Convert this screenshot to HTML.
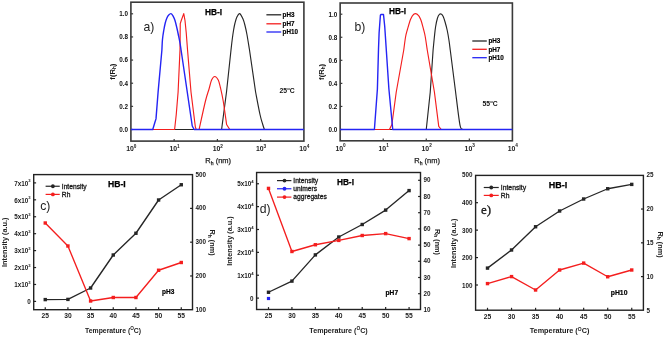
<!DOCTYPE html>
<html><head><meta charset="utf-8"><style>
html,body{margin:0;padding:0;background:#fff;}
body{width:666px;height:337px;overflow:hidden;}
svg{display:block;font-family:"Liberation Sans", sans-serif;will-change:transform;}
</style></head><body>
<svg width="666" height="337" viewBox="0 0 666 337">
<rect width="666" height="337" fill="#fff"/>
<rect x="130.90" y="2.20" width="173.00" height="138.90" fill="none" stroke="#3a3a3a" stroke-width="1.6"/>
<line x1="174.15" y1="141.10" x2="174.15" y2="138.90" stroke="#3a3a3a" stroke-width="1.2"/>
<line x1="217.40" y1="141.10" x2="217.40" y2="138.90" stroke="#3a3a3a" stroke-width="1.2"/>
<line x1="260.65" y1="141.10" x2="260.65" y2="138.90" stroke="#3a3a3a" stroke-width="1.2"/>
<line x1="130.90" y1="129.50" x2="133.10" y2="129.50" stroke="#3a3a3a" stroke-width="1.2"/>
<line x1="130.90" y1="106.36" x2="133.10" y2="106.36" stroke="#3a3a3a" stroke-width="1.2"/>
<line x1="130.90" y1="83.22" x2="133.10" y2="83.22" stroke="#3a3a3a" stroke-width="1.2"/>
<line x1="130.90" y1="60.08" x2="133.10" y2="60.08" stroke="#3a3a3a" stroke-width="1.2"/>
<line x1="130.90" y1="36.94" x2="133.10" y2="36.94" stroke="#3a3a3a" stroke-width="1.2"/>
<line x1="130.90" y1="13.80" x2="133.10" y2="13.80" stroke="#3a3a3a" stroke-width="1.2"/>
<text x="128.10" y="131.80" font-size="6.3" font-weight="bold" text-anchor="end" fill="#0d0d0d" >0.0</text>
<text x="128.10" y="108.66" font-size="6.3" font-weight="bold" text-anchor="end" fill="#0d0d0d" >0.2</text>
<text x="128.10" y="85.52" font-size="6.3" font-weight="bold" text-anchor="end" fill="#0d0d0d" >0.4</text>
<text x="128.10" y="62.38" font-size="6.3" font-weight="bold" text-anchor="end" fill="#0d0d0d" >0.6</text>
<text x="128.10" y="39.24" font-size="6.3" font-weight="bold" text-anchor="end" fill="#0d0d0d" >0.8</text>
<text x="128.10" y="16.10" font-size="6.3" font-weight="bold" text-anchor="end" fill="#0d0d0d" >1.0</text>
<text x="131.30" y="151.00" font-size="6.9" font-weight="bold" text-anchor="middle" fill="#222">10<tspan font-size="4.7" dy="-3.3">0</tspan></text>
<text x="174.55" y="151.00" font-size="6.9" font-weight="bold" text-anchor="middle" fill="#222">10<tspan font-size="4.7" dy="-3.3">1</tspan></text>
<text x="217.80" y="151.00" font-size="6.9" font-weight="bold" text-anchor="middle" fill="#222">10<tspan font-size="4.7" dy="-3.3">2</tspan></text>
<text x="261.05" y="151.00" font-size="6.9" font-weight="bold" text-anchor="middle" fill="#222">10<tspan font-size="4.7" dy="-3.3">3</tspan></text>
<text x="304.30" y="151.00" font-size="6.9" font-weight="bold" text-anchor="middle" fill="#222">10<tspan font-size="4.7" dy="-3.3">4</tspan></text>
<text x="218.20" y="162.90" font-size="7.5" font-weight="normal" stroke="#222" stroke-width="0.25" text-anchor="middle" fill="#222">R<tspan font-size="5" dy="2.0">h</tspan><tspan dy="-2.0"> (nm)</tspan></text>
<text transform="translate(114.80,71.65) rotate(-90)" x="0" y="0" font-size="7.6" font-weight="bold" text-anchor="middle" fill="#1a1a1a">f(R<tspan font-size="4.8" dy="1.1">h</tspan><tspan dy="-1.1">)</tspan></text>
<rect x="340.15" y="3.00" width="172.25" height="137.80" fill="none" stroke="#3a3a3a" stroke-width="1.6"/>
<line x1="383.21" y1="140.80" x2="383.21" y2="138.60" stroke="#3a3a3a" stroke-width="1.2"/>
<line x1="426.27" y1="140.80" x2="426.27" y2="138.60" stroke="#3a3a3a" stroke-width="1.2"/>
<line x1="469.34" y1="140.80" x2="469.34" y2="138.60" stroke="#3a3a3a" stroke-width="1.2"/>
<line x1="340.15" y1="129.50" x2="342.35" y2="129.50" stroke="#3a3a3a" stroke-width="1.2"/>
<line x1="340.15" y1="106.44" x2="342.35" y2="106.44" stroke="#3a3a3a" stroke-width="1.2"/>
<line x1="340.15" y1="83.38" x2="342.35" y2="83.38" stroke="#3a3a3a" stroke-width="1.2"/>
<line x1="340.15" y1="60.32" x2="342.35" y2="60.32" stroke="#3a3a3a" stroke-width="1.2"/>
<line x1="340.15" y1="37.26" x2="342.35" y2="37.26" stroke="#3a3a3a" stroke-width="1.2"/>
<line x1="340.15" y1="14.20" x2="342.35" y2="14.20" stroke="#3a3a3a" stroke-width="1.2"/>
<text x="337.35" y="131.80" font-size="6.3" font-weight="bold" text-anchor="end" fill="#0d0d0d" >0.0</text>
<text x="337.35" y="108.74" font-size="6.3" font-weight="bold" text-anchor="end" fill="#0d0d0d" >0.2</text>
<text x="337.35" y="85.68" font-size="6.3" font-weight="bold" text-anchor="end" fill="#0d0d0d" >0.4</text>
<text x="337.35" y="62.62" font-size="6.3" font-weight="bold" text-anchor="end" fill="#0d0d0d" >0.6</text>
<text x="337.35" y="39.56" font-size="6.3" font-weight="bold" text-anchor="end" fill="#0d0d0d" >0.8</text>
<text x="337.35" y="16.50" font-size="6.3" font-weight="bold" text-anchor="end" fill="#0d0d0d" >1.0</text>
<text x="340.55" y="150.70" font-size="6.9" font-weight="bold" text-anchor="middle" fill="#222">10<tspan font-size="4.7" dy="-3.3">0</tspan></text>
<text x="383.61" y="150.70" font-size="6.9" font-weight="bold" text-anchor="middle" fill="#222">10<tspan font-size="4.7" dy="-3.3">1</tspan></text>
<text x="426.67" y="150.70" font-size="6.9" font-weight="bold" text-anchor="middle" fill="#222">10<tspan font-size="4.7" dy="-3.3">2</tspan></text>
<text x="469.74" y="150.70" font-size="6.9" font-weight="bold" text-anchor="middle" fill="#222">10<tspan font-size="4.7" dy="-3.3">3</tspan></text>
<text x="512.80" y="150.70" font-size="6.9" font-weight="bold" text-anchor="middle" fill="#222">10<tspan font-size="4.7" dy="-3.3">4</tspan></text>
<text x="427.07" y="162.60" font-size="7.5" font-weight="normal" stroke="#222" stroke-width="0.25" text-anchor="middle" fill="#222">R<tspan font-size="5" dy="2.0">h</tspan><tspan dy="-2.0"> (nm)</tspan></text>
<text transform="translate(324.05,71.90) rotate(-90)" x="0" y="0" font-size="7.6" font-weight="bold" text-anchor="middle" fill="#1a1a1a">f(R<tspan font-size="4.8" dy="1.1">h</tspan><tspan dy="-1.1">)</tspan></text>
<path d="M174.40,129.50 L221.60,129.50 L226.50,92.00 L231.00,50.00 C231.21,48.21 231.83,42.50 232.25,39.25 C232.67,36.00 233.04,33.21 233.50,30.50 C233.96,27.79 234.43,25.25 235.00,23.00 C235.57,20.75 236.11,18.57 236.90,17.00 C237.69,15.43 238.72,13.22 239.75,13.60 C240.78,13.97 242.22,17.27 243.10,19.25 C243.97,21.23 244.37,23.00 245.00,25.50 C245.63,28.00 246.17,30.29 246.90,34.25 C247.63,38.21 248.98,46.75 249.40,49.25 L255.60,92.00 C256.33,95.75 258.81,109.08 260.00,114.50 C261.19,119.92 262.02,122.00 262.75,124.50 C263.48,127.00 264.12,128.67 264.40,129.50" fill="none" stroke="#262626" stroke-width="1.15" stroke-linejoin="round"/>
<path d="M152.75,129.50 L174.60,129.50 L176.25,114.50 L178.10,92.00 L180.00,50.00 L180.25,23.60 L181.25,20.50 L183.75,13.60 L185.00,20.50 L186.25,33.00 L187.50,49.50 L191.00,92.00 L195.40,127.25 L196.25,129.50 L199.10,129.50 C200.15,124.79 203.73,108.04 205.40,101.25 C207.07,94.46 208.07,92.29 209.10,88.75 C210.13,85.21 210.66,82.04 211.60,80.00 C212.54,77.96 213.64,76.50 214.75,76.50 C215.86,76.50 217.31,78.17 218.25,80.00 C219.19,81.83 219.57,83.96 220.40,87.50 C221.23,91.04 222.22,95.08 223.25,101.25 C224.28,107.42 226.04,120.62 226.60,124.50 L229.75,129.50" fill="none" stroke="#f41e1e" stroke-width="1.15" stroke-linejoin="round"/>
<path d="M130.90,129.50 L152.75,129.50 L155.00,122.00 L156.00,118.90 L158.10,92.00 L161.90,50.00 C162.00,48.21 162.19,42.50 162.50,39.25 C162.81,36.00 163.29,33.21 163.75,30.50 C164.21,27.79 164.72,25.08 165.25,23.00 C165.78,20.92 166.36,19.29 166.90,18.00 C167.44,16.71 167.82,15.98 168.50,15.25 C169.18,14.52 170.23,13.46 171.00,13.60 C171.77,13.74 172.43,14.95 173.10,16.10 C173.77,17.25 174.37,18.52 175.00,20.50 C175.63,22.48 176.32,25.50 176.90,28.00 C177.48,30.50 177.98,33.00 178.50,35.50 C179.02,38.00 179.58,40.67 180.00,43.00 C180.42,45.33 180.83,48.42 181.00,49.50 L187.25,92.00 L192.25,126.00 L194.10,129.50 L303.90,129.50" fill="none" stroke="#2424f4" stroke-width="1.4" stroke-linejoin="round"/>
<path d="M389.40,129.50 L426.25,129.50 L430.25,92.00 L433.10,50.00 C433.32,47.79 433.98,40.62 434.40,36.75 C434.82,32.88 435.08,29.88 435.60,26.75 C436.12,23.62 436.87,20.07 437.50,18.00 C438.13,15.93 438.72,14.92 439.40,14.30 C440.08,13.68 440.97,13.93 441.60,14.30 C442.23,14.67 442.63,15.26 443.20,16.50 C443.77,17.74 444.32,19.42 445.00,21.75 C445.68,24.08 446.58,27.38 447.25,30.50 C447.92,33.62 448.50,37.25 449.00,40.50 C449.50,43.75 450.04,48.42 450.25,50.00 L455.60,92.00 C456.33,97.52 458.75,118.85 460.00,125.10 C461.25,131.35 462.58,128.77 463.10,129.50" fill="none" stroke="#262626" stroke-width="1.15" stroke-linejoin="round"/>
<path d="M374.40,129.50 L389.40,129.50 L391.90,124.50 L396.25,92.00 L403.75,50.00 C404.06,47.79 404.98,40.21 405.60,36.75 C406.23,33.29 406.67,32.17 407.50,29.25 C408.33,26.33 409.56,21.74 410.60,19.25 C411.64,16.76 412.65,15.12 413.75,14.30 C414.85,13.48 416.06,13.48 417.20,14.30 C418.34,15.12 419.55,16.76 420.60,19.25 C421.65,21.74 422.73,26.33 423.50,29.25 C424.27,32.17 424.62,33.29 425.25,36.75 C425.88,40.21 426.92,47.79 427.25,50.00 L434.40,92.00 L438.75,126.40 L441.25,129.50" fill="none" stroke="#f41e1e" stroke-width="1.15" stroke-linejoin="round"/>
<path d="M340.15,129.50 L374.40,129.50 L377.40,89.00 L378.50,49.25 L379.10,33.00 L380.40,15.25 L381.00,14.50 L383.50,14.50 L384.75,26.75 L386.25,49.25 L388.90,89.00 L392.75,129.50 L512.40,129.50" fill="none" stroke="#2424f4" stroke-width="1.4" stroke-linejoin="round"/>
<text x="143.50" y="31.00" font-size="12.2" font-weight="normal" text-anchor="start" fill="#222" >a)</text>
<text x="354.60" y="30.80" font-size="12.2" font-weight="normal" text-anchor="start" fill="#222" >b)</text>
<text x="205.00" y="14.80" font-size="8.3" font-weight="bold" text-anchor="start" fill="#000" stroke="#000" stroke-width="0.25">HB-I</text>
<text x="389.00" y="14.10" font-size="8.3" font-weight="bold" text-anchor="start" fill="#000" stroke="#000" stroke-width="0.25">HB-I</text>
<text x="279.5" y="93.1" font-size="6.8" font-weight="bold" fill="#111">25<tspan font-size="4.2" dy="-3.2" dx="0.1">o</tspan><tspan dy="3.2" dx="0.1">C</tspan></text>
<text x="482.5" y="106.1" font-size="6.8" font-weight="bold" fill="#111">55<tspan font-size="4.2" dy="-3.2" dx="0.1">o</tspan><tspan dy="3.2" dx="0.1">C</tspan></text>
<line x1="266.40" y1="14.80" x2="281.20" y2="14.80" stroke="#262626" stroke-width="1.3"/>
<text x="282.60" y="17.00" font-size="6.3" font-weight="bold" text-anchor="start" fill="#000" stroke="#000" stroke-width="0.15">pH3</text>
<line x1="266.40" y1="23.80" x2="281.20" y2="23.80" stroke="#f41e1e" stroke-width="1.3"/>
<text x="282.60" y="26.00" font-size="6.3" font-weight="bold" text-anchor="start" fill="#000" stroke="#000" stroke-width="0.15">pH7</text>
<line x1="266.40" y1="32.00" x2="281.20" y2="32.00" stroke="#2424f4" stroke-width="1.3"/>
<text x="282.60" y="34.20" font-size="6.3" font-weight="bold" text-anchor="start" fill="#000" stroke="#000" stroke-width="0.15">pH10</text>
<line x1="472.30" y1="41.00" x2="486.80" y2="41.00" stroke="#262626" stroke-width="1.3"/>
<text x="488.40" y="43.20" font-size="6.3" font-weight="bold" text-anchor="start" fill="#000" stroke="#000" stroke-width="0.15">pH3</text>
<line x1="472.30" y1="49.30" x2="486.80" y2="49.30" stroke="#f41e1e" stroke-width="1.3"/>
<text x="488.40" y="51.50" font-size="6.3" font-weight="bold" text-anchor="start" fill="#000" stroke="#000" stroke-width="0.15">pH7</text>
<line x1="472.30" y1="57.70" x2="486.80" y2="57.70" stroke="#2424f4" stroke-width="1.3"/>
<text x="488.40" y="59.90" font-size="6.3" font-weight="bold" text-anchor="start" fill="#000" stroke="#000" stroke-width="0.15">pH10</text>
<rect x="33.70" y="174.60" width="158.80" height="135.10" fill="none" stroke="#222" stroke-width="1.4"/>
<line x1="45.25" y1="309.70" x2="45.25" y2="307.30" stroke="#222" stroke-width="1.2"/>
<text x="45.25" y="318.15" font-size="6.7" font-weight="bold" text-anchor="middle" fill="#1a1a1a" >25</text>
<line x1="67.92" y1="309.70" x2="67.92" y2="307.30" stroke="#222" stroke-width="1.2"/>
<text x="67.92" y="318.15" font-size="6.7" font-weight="bold" text-anchor="middle" fill="#1a1a1a" >30</text>
<line x1="90.59" y1="309.70" x2="90.59" y2="307.30" stroke="#222" stroke-width="1.2"/>
<text x="90.59" y="318.15" font-size="6.7" font-weight="bold" text-anchor="middle" fill="#1a1a1a" >35</text>
<line x1="113.26" y1="309.70" x2="113.26" y2="307.30" stroke="#222" stroke-width="1.2"/>
<text x="113.26" y="318.15" font-size="6.7" font-weight="bold" text-anchor="middle" fill="#1a1a1a" >40</text>
<line x1="135.93" y1="309.70" x2="135.93" y2="307.30" stroke="#222" stroke-width="1.2"/>
<text x="135.93" y="318.15" font-size="6.7" font-weight="bold" text-anchor="middle" fill="#1a1a1a" >45</text>
<line x1="158.60" y1="309.70" x2="158.60" y2="307.30" stroke="#222" stroke-width="1.2"/>
<text x="158.60" y="318.15" font-size="6.7" font-weight="bold" text-anchor="middle" fill="#1a1a1a" >50</text>
<line x1="181.27" y1="309.70" x2="181.27" y2="307.30" stroke="#222" stroke-width="1.2"/>
<text x="181.27" y="318.15" font-size="6.7" font-weight="bold" text-anchor="middle" fill="#1a1a1a" >55</text>
<text x="113.10" y="332.80" font-size="6.85" font-weight="bold" text-anchor="middle" fill="#1a1a1a">Temperature (<tspan font-size="4.66" dy="-2.8">O</tspan><tspan dy="2.8">C)</tspan></text>
<line x1="33.70" y1="301.40" x2="36.10" y2="301.40" stroke="#222" stroke-width="1.2"/>
<text x="30.70" y="304.10" font-size="6.3" font-weight="bold" text-anchor="end" fill="#1a1a1a">0</text>
<line x1="33.70" y1="284.47" x2="36.10" y2="284.47" stroke="#222" stroke-width="1.2"/>
<text x="30.70" y="287.17" font-size="6.3" font-weight="bold" text-anchor="end" fill="#1a1a1a">1x10<tspan font-size="4.2" dy="-3.4">3</tspan></text>
<line x1="33.70" y1="267.54" x2="36.10" y2="267.54" stroke="#222" stroke-width="1.2"/>
<text x="30.70" y="270.24" font-size="6.3" font-weight="bold" text-anchor="end" fill="#1a1a1a">2x10<tspan font-size="4.2" dy="-3.4">3</tspan></text>
<line x1="33.70" y1="250.61" x2="36.10" y2="250.61" stroke="#222" stroke-width="1.2"/>
<text x="30.70" y="253.31" font-size="6.3" font-weight="bold" text-anchor="end" fill="#1a1a1a">3x10<tspan font-size="4.2" dy="-3.4">3</tspan></text>
<line x1="33.70" y1="233.68" x2="36.10" y2="233.68" stroke="#222" stroke-width="1.2"/>
<text x="30.70" y="236.38" font-size="6.3" font-weight="bold" text-anchor="end" fill="#1a1a1a">4x10<tspan font-size="4.2" dy="-3.4">3</tspan></text>
<line x1="33.70" y1="216.75" x2="36.10" y2="216.75" stroke="#222" stroke-width="1.2"/>
<text x="30.70" y="219.45" font-size="6.3" font-weight="bold" text-anchor="end" fill="#1a1a1a">5x10<tspan font-size="4.2" dy="-3.4">3</tspan></text>
<line x1="33.70" y1="199.82" x2="36.10" y2="199.82" stroke="#222" stroke-width="1.2"/>
<text x="30.70" y="202.52" font-size="6.3" font-weight="bold" text-anchor="end" fill="#1a1a1a">6x10<tspan font-size="4.2" dy="-3.4">3</tspan></text>
<line x1="33.70" y1="182.89" x2="36.10" y2="182.89" stroke="#222" stroke-width="1.2"/>
<text x="30.70" y="185.59" font-size="6.3" font-weight="bold" text-anchor="end" fill="#1a1a1a">7x10<tspan font-size="4.2" dy="-3.4">3</tspan></text>
<text x="195.50" y="176.70" font-size="6.3" font-weight="bold" fill="#1a1a1a">500</text>
<line x1="192.50" y1="208.39" x2="190.10" y2="208.39" stroke="#222" stroke-width="1.2"/>
<text x="195.50" y="210.49" font-size="6.3" font-weight="bold" text-anchor="start" fill="#1a1a1a">400</text>
<line x1="192.50" y1="242.18" x2="190.10" y2="242.18" stroke="#222" stroke-width="1.2"/>
<text x="195.50" y="244.28" font-size="6.3" font-weight="bold" text-anchor="start" fill="#1a1a1a">300</text>
<line x1="192.50" y1="275.97" x2="190.10" y2="275.97" stroke="#222" stroke-width="1.2"/>
<text x="195.50" y="278.07" font-size="6.3" font-weight="bold" text-anchor="start" fill="#1a1a1a">200</text>
<text x="195.50" y="311.86" font-size="6.3" font-weight="bold" fill="#1a1a1a">100</text>
<polyline points="45.25,299.60 67.92,299.40 90.59,288.00 113.26,255.00 135.93,233.25 158.60,200.00 181.27,184.75" fill="none" stroke="#262626" stroke-width="1.35" stroke-linejoin="round" />
<rect x="43.55" y="297.90" width="3.40" height="3.40" fill="#262626"/>
<rect x="66.22" y="297.70" width="3.40" height="3.40" fill="#262626"/>
<rect x="88.89" y="286.30" width="3.40" height="3.40" fill="#262626"/>
<rect x="111.56" y="253.30" width="3.40" height="3.40" fill="#262626"/>
<rect x="134.23" y="231.55" width="3.40" height="3.40" fill="#262626"/>
<rect x="156.90" y="198.30" width="3.40" height="3.40" fill="#262626"/>
<rect x="179.57" y="183.05" width="3.40" height="3.40" fill="#262626"/>
<polyline points="45.25,223.00 67.92,246.00 90.59,301.00 113.26,297.50 135.93,297.50 158.60,270.25 181.27,262.50" fill="none" stroke="#f41e1e" stroke-width="1.35" stroke-linejoin="round" />
<rect x="43.55" y="221.30" width="3.40" height="3.40" fill="#f41e1e"/>
<rect x="66.22" y="244.30" width="3.40" height="3.40" fill="#f41e1e"/>
<rect x="88.89" y="299.30" width="3.40" height="3.40" fill="#f41e1e"/>
<rect x="111.56" y="295.80" width="3.40" height="3.40" fill="#f41e1e"/>
<rect x="134.23" y="295.80" width="3.40" height="3.40" fill="#f41e1e"/>
<rect x="156.90" y="268.55" width="3.40" height="3.40" fill="#f41e1e"/>
<rect x="179.57" y="260.80" width="3.40" height="3.40" fill="#f41e1e"/>
<text transform="translate(7.20,242.30) rotate(-90)" x="0" y="0" font-size="7.3" font-weight="bold" text-anchor="middle" fill="#222">Intensity (a.u.)</text>
<text transform="translate(210.00,242.60) rotate(90)" x="0" y="0" font-size="7.3" font-weight="bold" text-anchor="middle" fill="#222">R<tspan font-size="4.8" dy="1.6">h</tspan><tspan dy="-1.6"> (nm)</tspan></text>
<text x="40.20" y="210.10" font-size="12.2" font-weight="normal" text-anchor="start" fill="#222" >c)</text>
<text x="108.00" y="186.70" font-size="8.6" font-weight="bold" text-anchor="start" fill="#000" stroke="#000" stroke-width="0.25">HB-I</text>
<text x="162.00" y="294.40" font-size="6.5" font-weight="bold" text-anchor="start" fill="#000" stroke="#000" stroke-width="0.2">pH3</text>
<line x1="45.60" y1="186.25" x2="59.75" y2="186.25" stroke="#262626" stroke-width="1.2"/>
<circle cx="52.90" cy="186.25" r="1.90" fill="#262626"/>
<text x="61.80" y="188.55" font-size="6.7" font-weight="normal" text-anchor="start" fill="#1a1a1a" stroke="#1a1a1a" stroke-width="0.3">Intensity</text>
<line x1="45.60" y1="194.40" x2="59.75" y2="194.40" stroke="#f41e1e" stroke-width="1.2"/>
<circle cx="52.90" cy="194.40" r="1.90" fill="#f41e1e"/>
<text x="61.80" y="196.70" font-size="6.7" font-weight="normal" text-anchor="start" fill="#1a1a1a" stroke="#1a1a1a" stroke-width="0.3">Rh</text>
<rect x="256.60" y="172.50" width="163.90" height="137.00" fill="none" stroke="#222" stroke-width="1.4"/>
<line x1="268.50" y1="309.50" x2="268.50" y2="307.10" stroke="#222" stroke-width="1.2"/>
<text x="268.50" y="317.95" font-size="6.7" font-weight="bold" text-anchor="middle" fill="#1a1a1a" >25</text>
<line x1="291.93" y1="309.50" x2="291.93" y2="307.10" stroke="#222" stroke-width="1.2"/>
<text x="291.93" y="317.95" font-size="6.7" font-weight="bold" text-anchor="middle" fill="#1a1a1a" >30</text>
<line x1="315.36" y1="309.50" x2="315.36" y2="307.10" stroke="#222" stroke-width="1.2"/>
<text x="315.36" y="317.95" font-size="6.7" font-weight="bold" text-anchor="middle" fill="#1a1a1a" >35</text>
<line x1="338.79" y1="309.50" x2="338.79" y2="307.10" stroke="#222" stroke-width="1.2"/>
<text x="338.79" y="317.95" font-size="6.7" font-weight="bold" text-anchor="middle" fill="#1a1a1a" >40</text>
<line x1="362.22" y1="309.50" x2="362.22" y2="307.10" stroke="#222" stroke-width="1.2"/>
<text x="362.22" y="317.95" font-size="6.7" font-weight="bold" text-anchor="middle" fill="#1a1a1a" >45</text>
<line x1="385.65" y1="309.50" x2="385.65" y2="307.10" stroke="#222" stroke-width="1.2"/>
<text x="385.65" y="317.95" font-size="6.7" font-weight="bold" text-anchor="middle" fill="#1a1a1a" >50</text>
<line x1="409.08" y1="309.50" x2="409.08" y2="307.10" stroke="#222" stroke-width="1.2"/>
<text x="409.08" y="317.95" font-size="6.7" font-weight="bold" text-anchor="middle" fill="#1a1a1a" >55</text>
<text x="338.55" y="332.60" font-size="7.15" font-weight="bold" text-anchor="middle" fill="#1a1a1a">Temperature (<tspan font-size="4.86" dy="-2.8">O</tspan><tspan dy="2.8">C)</tspan></text>
<line x1="256.60" y1="298.10" x2="259.00" y2="298.10" stroke="#222" stroke-width="1.2"/>
<text x="253.60" y="300.80" font-size="6.3" font-weight="bold" text-anchor="end" fill="#1a1a1a">0</text>
<line x1="256.60" y1="275.23" x2="259.00" y2="275.23" stroke="#222" stroke-width="1.2"/>
<text x="253.60" y="277.93" font-size="6.3" font-weight="bold" text-anchor="end" fill="#1a1a1a">1x10<tspan font-size="4.2" dy="-3.4">4</tspan></text>
<line x1="256.60" y1="252.36" x2="259.00" y2="252.36" stroke="#222" stroke-width="1.2"/>
<text x="253.60" y="255.06" font-size="6.3" font-weight="bold" text-anchor="end" fill="#1a1a1a">2x10<tspan font-size="4.2" dy="-3.4">4</tspan></text>
<line x1="256.60" y1="229.49" x2="259.00" y2="229.49" stroke="#222" stroke-width="1.2"/>
<text x="253.60" y="232.19" font-size="6.3" font-weight="bold" text-anchor="end" fill="#1a1a1a">3x10<tspan font-size="4.2" dy="-3.4">4</tspan></text>
<line x1="256.60" y1="206.62" x2="259.00" y2="206.62" stroke="#222" stroke-width="1.2"/>
<text x="253.60" y="209.32" font-size="6.3" font-weight="bold" text-anchor="end" fill="#1a1a1a">4x10<tspan font-size="4.2" dy="-3.4">4</tspan></text>
<line x1="256.60" y1="183.75" x2="259.00" y2="183.75" stroke="#222" stroke-width="1.2"/>
<text x="253.60" y="186.45" font-size="6.3" font-weight="bold" text-anchor="end" fill="#1a1a1a">5x10<tspan font-size="4.2" dy="-3.4">4</tspan></text>
<text x="423.50" y="312.00" font-size="6.3" font-weight="bold" fill="#1a1a1a">10</text>
<line x1="420.50" y1="293.70" x2="418.10" y2="293.70" stroke="#222" stroke-width="1.2"/>
<text x="423.50" y="295.80" font-size="6.3" font-weight="bold" text-anchor="start" fill="#1a1a1a">20</text>
<line x1="420.50" y1="277.50" x2="418.10" y2="277.50" stroke="#222" stroke-width="1.2"/>
<text x="423.50" y="279.60" font-size="6.3" font-weight="bold" text-anchor="start" fill="#1a1a1a">30</text>
<line x1="420.50" y1="261.30" x2="418.10" y2="261.30" stroke="#222" stroke-width="1.2"/>
<text x="423.50" y="263.40" font-size="6.3" font-weight="bold" text-anchor="start" fill="#1a1a1a">40</text>
<line x1="420.50" y1="245.10" x2="418.10" y2="245.10" stroke="#222" stroke-width="1.2"/>
<text x="423.50" y="247.20" font-size="6.3" font-weight="bold" text-anchor="start" fill="#1a1a1a">50</text>
<line x1="420.50" y1="228.90" x2="418.10" y2="228.90" stroke="#222" stroke-width="1.2"/>
<text x="423.50" y="231.00" font-size="6.3" font-weight="bold" text-anchor="start" fill="#1a1a1a">60</text>
<line x1="420.50" y1="212.70" x2="418.10" y2="212.70" stroke="#222" stroke-width="1.2"/>
<text x="423.50" y="214.80" font-size="6.3" font-weight="bold" text-anchor="start" fill="#1a1a1a">70</text>
<line x1="420.50" y1="196.50" x2="418.10" y2="196.50" stroke="#222" stroke-width="1.2"/>
<text x="423.50" y="198.60" font-size="6.3" font-weight="bold" text-anchor="start" fill="#1a1a1a">80</text>
<line x1="420.50" y1="180.30" x2="418.10" y2="180.30" stroke="#222" stroke-width="1.2"/>
<text x="423.50" y="182.40" font-size="6.3" font-weight="bold" text-anchor="start" fill="#1a1a1a">90</text>
<polyline points="268.50,292.25 291.93,281.10 315.36,254.90 338.79,237.00 362.22,224.50 385.65,210.10 409.08,190.60" fill="none" stroke="#262626" stroke-width="1.35" stroke-linejoin="round" />
<rect x="266.80" y="290.55" width="3.40" height="3.40" fill="#262626"/>
<rect x="290.23" y="279.40" width="3.40" height="3.40" fill="#262626"/>
<rect x="313.66" y="253.20" width="3.40" height="3.40" fill="#262626"/>
<rect x="337.09" y="235.30" width="3.40" height="3.40" fill="#262626"/>
<rect x="360.52" y="222.80" width="3.40" height="3.40" fill="#262626"/>
<rect x="383.95" y="208.40" width="3.40" height="3.40" fill="#262626"/>
<rect x="407.38" y="188.90" width="3.40" height="3.40" fill="#262626"/>
<polyline points="268.50,188.40 291.93,251.50 315.36,244.75 338.79,240.40 362.22,235.50 385.65,233.60 409.08,238.60" fill="none" stroke="#f41e1e" stroke-width="1.35" stroke-linejoin="round" />
<rect x="266.80" y="186.70" width="3.40" height="3.40" fill="#f41e1e"/>
<rect x="290.23" y="249.80" width="3.40" height="3.40" fill="#f41e1e"/>
<rect x="313.66" y="243.05" width="3.40" height="3.40" fill="#f41e1e"/>
<rect x="337.09" y="238.70" width="3.40" height="3.40" fill="#f41e1e"/>
<rect x="360.52" y="233.80" width="3.40" height="3.40" fill="#f41e1e"/>
<rect x="383.95" y="231.90" width="3.40" height="3.40" fill="#f41e1e"/>
<rect x="407.38" y="236.90" width="3.40" height="3.40" fill="#f41e1e"/>
<rect x="266.90" y="296.90" width="3.20" height="3.20" fill="#2424f4"/>
<text transform="translate(231.90,241.00) rotate(-90)" x="0" y="0" font-size="7.3" font-weight="bold" text-anchor="middle" fill="#222">Intensity (a.u.)</text>
<text transform="translate(435.40,242.00) rotate(90)" x="0" y="0" font-size="7.3" font-weight="bold" text-anchor="middle" fill="#222">R<tspan font-size="4.8" dy="1.6">h</tspan><tspan dy="-1.6"> (nm)</tspan></text>
<text x="259.80" y="213.20" font-size="12.2" font-weight="normal" text-anchor="start" fill="#222" >d)</text>
<text x="336.90" y="185.00" font-size="8.3" font-weight="bold" text-anchor="start" fill="#000" stroke="#000" stroke-width="0.25">HB-I</text>
<text x="385.60" y="294.90" font-size="6.6" font-weight="bold" text-anchor="start" fill="#000" stroke="#000" stroke-width="0.2">pH7</text>
<line x1="277.00" y1="180.60" x2="291.40" y2="180.60" stroke="#262626" stroke-width="1.2"/>
<circle cx="284.50" cy="180.60" r="1.90" fill="#262626"/>
<text x="293.30" y="182.90" font-size="6.7" font-weight="normal" text-anchor="start" fill="#1a1a1a" stroke="#1a1a1a" stroke-width="0.3">Intensity</text>
<line x1="277.00" y1="188.75" x2="291.40" y2="188.75" stroke="#2424f4" stroke-width="1.2"/>
<circle cx="284.50" cy="188.75" r="1.90" fill="#2424f4"/>
<text x="293.30" y="191.05" font-size="6.7" font-weight="normal" text-anchor="start" fill="#1a1a1a" stroke="#1a1a1a" stroke-width="0.3">unimers</text>
<line x1="277.00" y1="197.10" x2="291.40" y2="197.10" stroke="#f41e1e" stroke-width="1.2"/>
<circle cx="284.50" cy="197.10" r="1.90" fill="#f41e1e"/>
<text x="293.30" y="199.40" font-size="6.7" font-weight="normal" text-anchor="start" fill="#1a1a1a" stroke="#1a1a1a" stroke-width="0.3">aggregates</text>
<rect x="475.60" y="175.40" width="167.80" height="134.80" fill="none" stroke="#222" stroke-width="1.4"/>
<line x1="487.50" y1="310.20" x2="487.50" y2="307.80" stroke="#222" stroke-width="1.2"/>
<text x="487.50" y="318.65" font-size="6.7" font-weight="bold" text-anchor="middle" fill="#1a1a1a" >25</text>
<line x1="511.54" y1="310.20" x2="511.54" y2="307.80" stroke="#222" stroke-width="1.2"/>
<text x="511.54" y="318.65" font-size="6.7" font-weight="bold" text-anchor="middle" fill="#1a1a1a" >30</text>
<line x1="535.58" y1="310.20" x2="535.58" y2="307.80" stroke="#222" stroke-width="1.2"/>
<text x="535.58" y="318.65" font-size="6.7" font-weight="bold" text-anchor="middle" fill="#1a1a1a" >35</text>
<line x1="559.62" y1="310.20" x2="559.62" y2="307.80" stroke="#222" stroke-width="1.2"/>
<text x="559.62" y="318.65" font-size="6.7" font-weight="bold" text-anchor="middle" fill="#1a1a1a" >40</text>
<line x1="583.66" y1="310.20" x2="583.66" y2="307.80" stroke="#222" stroke-width="1.2"/>
<text x="583.66" y="318.65" font-size="6.7" font-weight="bold" text-anchor="middle" fill="#1a1a1a" >45</text>
<line x1="607.70" y1="310.20" x2="607.70" y2="307.80" stroke="#222" stroke-width="1.2"/>
<text x="607.70" y="318.65" font-size="6.7" font-weight="bold" text-anchor="middle" fill="#1a1a1a" >50</text>
<line x1="631.74" y1="310.20" x2="631.74" y2="307.80" stroke="#222" stroke-width="1.2"/>
<text x="631.74" y="318.65" font-size="6.7" font-weight="bold" text-anchor="middle" fill="#1a1a1a" >55</text>
<text x="559.50" y="333.30" font-size="7.3" font-weight="bold" text-anchor="middle" fill="#1a1a1a">Temperature (<tspan font-size="4.96" dy="-2.8">O</tspan><tspan dy="2.8">C)</tspan></text>
<text x="472.60" y="177.25" font-size="6.3" font-weight="bold" text-anchor="end" fill="#1a1a1a">500</text>
<line x1="475.60" y1="202.69" x2="478.00" y2="202.69" stroke="#222" stroke-width="1.2"/>
<text x="472.60" y="205.39" font-size="6.3" font-weight="bold" text-anchor="end" fill="#1a1a1a">400</text>
<line x1="475.60" y1="230.13" x2="478.00" y2="230.13" stroke="#222" stroke-width="1.2"/>
<text x="472.60" y="232.83" font-size="6.3" font-weight="bold" text-anchor="end" fill="#1a1a1a">300</text>
<line x1="475.60" y1="257.57" x2="478.00" y2="257.57" stroke="#222" stroke-width="1.2"/>
<text x="472.60" y="260.27" font-size="6.3" font-weight="bold" text-anchor="end" fill="#1a1a1a">200</text>
<line x1="475.60" y1="285.01" x2="478.00" y2="285.01" stroke="#222" stroke-width="1.2"/>
<text x="472.60" y="287.71" font-size="6.3" font-weight="bold" text-anchor="end" fill="#1a1a1a">100</text>
<text x="646.40" y="177.35" font-size="6.3" font-weight="bold" fill="#1a1a1a">25</text>
<line x1="643.40" y1="209.04" x2="641.00" y2="209.04" stroke="#222" stroke-width="1.2"/>
<text x="646.40" y="211.14" font-size="6.3" font-weight="bold" text-anchor="start" fill="#1a1a1a">20</text>
<line x1="643.40" y1="242.83" x2="641.00" y2="242.83" stroke="#222" stroke-width="1.2"/>
<text x="646.40" y="244.93" font-size="6.3" font-weight="bold" text-anchor="start" fill="#1a1a1a">15</text>
<line x1="643.40" y1="276.62" x2="641.00" y2="276.62" stroke="#222" stroke-width="1.2"/>
<text x="646.40" y="278.72" font-size="6.3" font-weight="bold" text-anchor="start" fill="#1a1a1a">10</text>
<text x="646.40" y="312.51" font-size="6.3" font-weight="bold" fill="#1a1a1a">5</text>
<polyline points="487.50,268.10 511.54,250.00 535.58,226.75 559.62,211.00 583.66,199.00 607.70,188.75 631.74,184.40" fill="none" stroke="#262626" stroke-width="1.35" stroke-linejoin="round" />
<rect x="485.80" y="266.40" width="3.40" height="3.40" fill="#262626"/>
<rect x="509.84" y="248.30" width="3.40" height="3.40" fill="#262626"/>
<rect x="533.88" y="225.05" width="3.40" height="3.40" fill="#262626"/>
<rect x="557.92" y="209.30" width="3.40" height="3.40" fill="#262626"/>
<rect x="581.96" y="197.30" width="3.40" height="3.40" fill="#262626"/>
<rect x="606.00" y="187.05" width="3.40" height="3.40" fill="#262626"/>
<rect x="630.04" y="182.70" width="3.40" height="3.40" fill="#262626"/>
<polyline points="487.50,283.60 511.54,276.60 535.58,290.00 559.62,270.00 583.66,263.10 607.70,276.75 631.74,270.00" fill="none" stroke="#f41e1e" stroke-width="1.35" stroke-linejoin="round" />
<rect x="485.80" y="281.90" width="3.40" height="3.40" fill="#f41e1e"/>
<rect x="509.84" y="274.90" width="3.40" height="3.40" fill="#f41e1e"/>
<rect x="533.88" y="288.30" width="3.40" height="3.40" fill="#f41e1e"/>
<rect x="557.92" y="268.30" width="3.40" height="3.40" fill="#f41e1e"/>
<rect x="581.96" y="261.40" width="3.40" height="3.40" fill="#f41e1e"/>
<rect x="606.00" y="275.05" width="3.40" height="3.40" fill="#f41e1e"/>
<rect x="630.04" y="268.30" width="3.40" height="3.40" fill="#f41e1e"/>
<text transform="translate(455.70,243.20) rotate(-90)" x="0" y="0" font-size="7.3" font-weight="bold" text-anchor="middle" fill="#222">Intensity (a.u.)</text>
<text transform="translate(658.30,244.60) rotate(90)" x="0" y="0" font-size="7.3" font-weight="bold" text-anchor="middle" fill="#222">R<tspan font-size="4.8" dy="1.6">h</tspan><tspan dy="-1.6"> (nm)</tspan></text>
<text x="480.9" y="213.6" font-size="13" font-family="Liberation Serif, serif" fill="#1a1a1a" stroke="#1a1a1a" stroke-width="0.3">e)</text>
<text x="548.70" y="188.40" font-size="9.0" font-weight="bold" text-anchor="start" fill="#000" stroke="#000" stroke-width="0.25">HB-I</text>
<text x="610.80" y="295.30" font-size="6.8" font-weight="bold" text-anchor="start" fill="#000" stroke="#000" stroke-width="0.2">pH10</text>
<line x1="483.75" y1="187.50" x2="498.75" y2="187.50" stroke="#262626" stroke-width="1.2"/>
<circle cx="491.25" cy="187.50" r="1.90" fill="#262626"/>
<text x="500.80" y="189.80" font-size="6.8" font-weight="normal" text-anchor="start" fill="#1a1a1a" stroke="#1a1a1a" stroke-width="0.3">Intensity</text>
<line x1="483.75" y1="195.40" x2="498.75" y2="195.40" stroke="#f41e1e" stroke-width="1.2"/>
<circle cx="491.25" cy="195.40" r="1.90" fill="#f41e1e"/>
<text x="500.80" y="197.70" font-size="6.8" font-weight="normal" text-anchor="start" fill="#1a1a1a" stroke="#1a1a1a" stroke-width="0.3">Rh</text>
</svg>
</body></html>
